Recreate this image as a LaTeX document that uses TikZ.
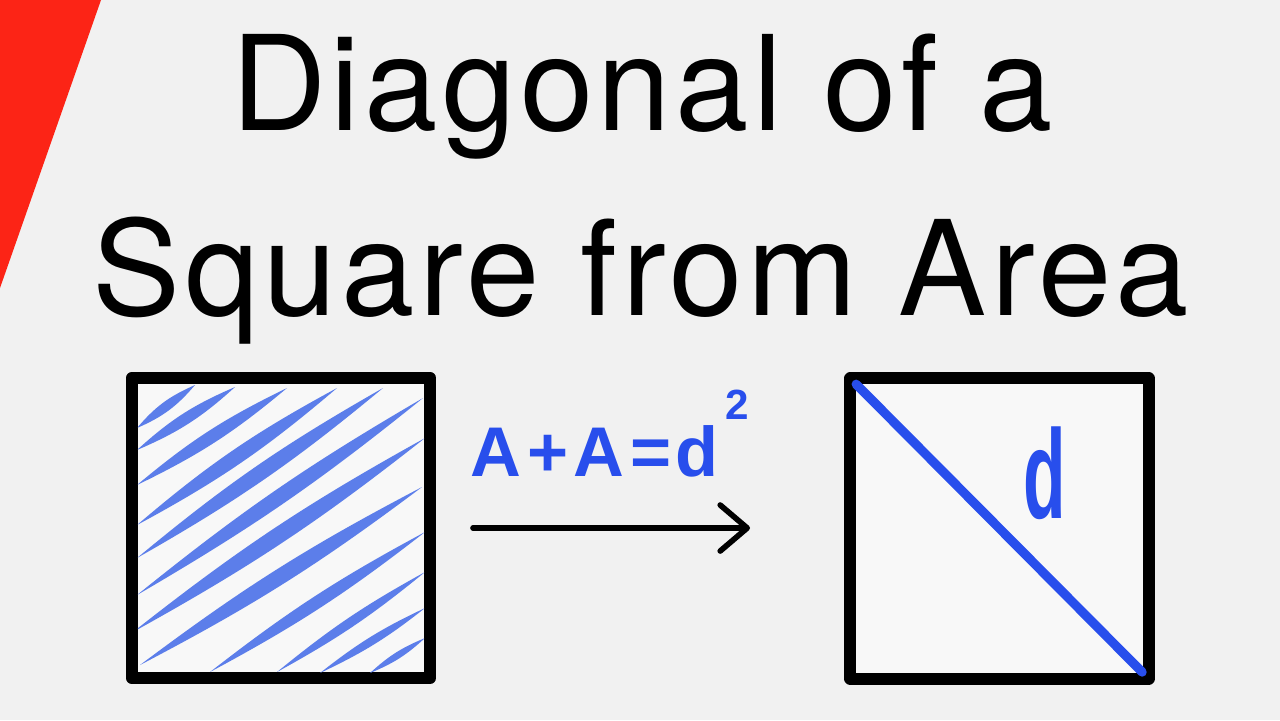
\documentclass[tikz,border=0pt]{standalone}
\usepackage{fontspec}
\setmainfont{TeX Gyre Heros}
\newfontfamily\titlefont[LetterSpace=3.4]{TeX Gyre Heros}
\newfontfamily\penfont{Liberation Sans}
\usetikzlibrary{arrows.meta}
\definecolor{paper}{RGB}{241,241,241}
\definecolor{ytred}{RGB}{252,36,22}
\definecolor{penblue}{RGB}{40,78,236}
\definecolor{hatchblue}{RGB}{92,126,234}

\begin{document}
\begin{tikzpicture}
 [
 x=0.01cm, y=-0.01cm,
 sqbox/.style={rectangle, draw=black, fill=white!50!paper, line width=3.4pt, line join=round, outer sep=0pt, inner sep=0pt, minimum width=2.98cm, minimum height=3cm},
 title/.style={anchor=base, inner sep=0pt, font=\titlefont\fontsize{37.5}{44}\selectfont},
 pentext/.style={text=penblue, inner sep=0pt, font=\penfont\bfseries\fontsize{20}{24}\selectfont},
 bigd/.style={text=penblue, inner sep=0pt, font=\penfont\bfseries\fontsize{36}{40}\selectfont},
 hatch/.style={fill=hatchblue},
 diag/.style={draw=penblue, line width=2.6pt, line cap=round},
 arrowline/.style={draw=black, line width=1.6pt, line cap=round, -{Straight Barb[length=2.7mm, width=4.6mm, round]}}
 ]
 \useasboundingbox (0,0) rectangle (1280,720);
 \fill[paper] (0,0) rectangle (1280,720);
 \fill[ytred] (0,0) -- (101,0) -- (0,288) -- cycle;
 % title
 \node at (642,130) [title] (line1) {Diagonal of a};
 \node at (641,315) [title] (line2) {Square from Area};
 % squares
 \node at (281,528) [sqbox] (left) {};
 \node at (999.5,528.5) [sqbox] (right) {};
 \begin{scope}
  \clip ([shift={(6,6)}]left.north west) rectangle ([shift={(-6,-6)}]left.south east);
  \foreach \sx/\sy/\ex/\ey/\bnd in {137/428/195/385/13, 137/450/235/387/9.5, 137/485/287/388/7,
     137/525/337/388/6, 137/558/383/388/5, 137/595/423/398/4.3, 133/632/425/438/4.6,
     140/665/422/487/4.6, 210/672/425/532/4.8, 277/672/425/572/5.2, 320/673/425/608/6.5, 370/673/425/638/10}
   \fill[hatch] (\sx,\sy) to[bend left=\bnd] (\ex,\ey) to[bend left=\bnd] (\sx,\sy);
 \end{scope}
 \draw[diag, shorten <=2.3pt, shorten >=2.6pt] (right.north west) -- (right.south east);
 \node at (1045,518) [bigd, anchor=base] (dlabel) {\scalebox{0.55}[1]{d}};
 % equation and arrow
 \node at (470,476) [pentext, anchor=base west] (eq) {A\hspace{0.08em}+\hspace{0.08em}A\hspace{0.08em}=\hspace{0.06em}d\hspace{0.1em}\raisebox{0.8em}{\fontsize{12}{12}\selectfont 2}};
 \coordinate (arrtail) at (473,528);
 \coordinate (arrtip) at (750,528);
 \draw[arrowline] (arrtail) -- (arrtip);
\end{tikzpicture}
\end{document}
